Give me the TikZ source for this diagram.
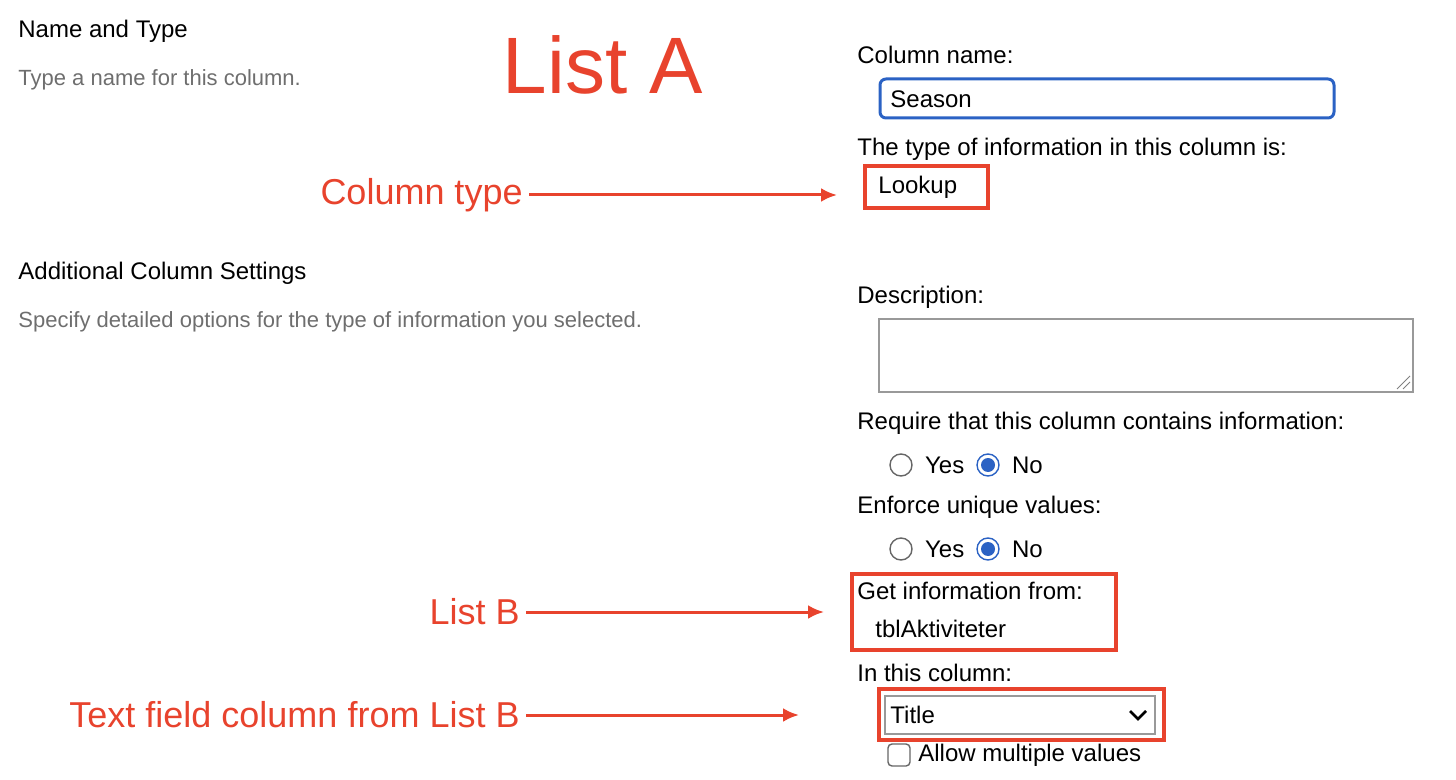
\documentclass[tikz,border=0pt]{standalone}
\usepackage{fontspec}
\setmainfont{Liberation Sans}
\usetikzlibrary{arrows.meta,positioning}
\definecolor{annored}{HTML}{E8432D}
\definecolor{uiblue}{HTML}{2B62C4}
\definecolor{uigray}{HTML}{6E6E6E}
\tikzset{
   ui text/.style={anchor=west,inner sep=0pt,font=\fontsize{12}{14}\selectfont},
   hint text/.style={ui text,text=uigray,font=\fontsize{11}{13}\selectfont},
   anno text/.style={anchor=east,inner sep=0pt,text=annored,font=\fontsize{18}{20}\selectfont},
   anno box/.style={draw=annored,line width=1.6pt},
   anno arrow/.style={-{Latex[length=8pt,width=7pt]},draw=annored,line width=1.5pt,shorten <=3pt,shorten >=14pt},
   field box/.style={draw=black!40,line width=0.7pt},
   radio/.style={circle,draw=black!60,line width=0.7pt,minimum size=11pt,inner sep=0pt}
}
\begin{document}
\begin{tikzpicture}[x=0.5pt,y=-0.5pt]
\useasboundingbox (0,0) rectangle (1456,780);

% left column
\node[ui text] (nt) at (18,31) {Name and Type};
\node[hint text] (nthint) at (18,80) {Type a name for this column.};
\node[ui text] (acs) at (18,273) {Additional Column Settings};
\node[hint text] (acshint) at (18,322) {Specify detailed options for the type of information you selected.};
\node[inner sep=0pt,text=annored,font=\fontsize{40}{44}\selectfont] (lista) at (603,65) {List A};

% form
\node[ui text] (cname) at (857,55) {Column name:};
\draw[uiblue,line width=1.5pt,rounded corners=3pt] (880,79) rectangle (1334,118);
\node[ui text] (season) at (890,99) {Season};
\node[ui text] (ctype) at (857,149) {The type of information in this column is:};
\node[ui text] (lookup) at (878,187) {Lookup};
\draw[anno box] (865,166) rectangle (988,208) coordinate (lookupbox);
\coordinate (lookupin) at (865,195);

\node[ui text] (desc) at (857,297) {Description:};
\draw[field box] (879,319) rectangle (1413,392);
\draw[black!50,line width=0.5pt] (1397,389) -- (1410,376) (1403,389) -- (1410,382);

\node[ui text] (req) at (857,423) {Require that this column contains information:};
\node[radio] (ryes1) at (901,465) {};
\node[ui text,right=6pt of ryes1] {Yes};
\node[radio,draw=uiblue,fill=white] (rno1) at (988,465) {};
\fill[uiblue] (rno1) circle (3.5pt);
\node[ui text,right=6pt of rno1] {No};

\node[ui text] (enf) at (857,507) {Enforce unique values:};
\node[radio] (ryes2) at (901,549) {};
\node[ui text,right=6pt of ryes2] {Yes};
\node[radio,draw=uiblue,fill=white] (rno2) at (988,549) {};
\fill[uiblue] (rno2) circle (3.5pt);
\node[ui text,right=6pt of rno2] {No};

\node[ui text] (getinfo) at (857,591) {Get information from:};
\node[ui text] (tbl) at (875,629) {tblAktiviteter};
\draw[anno box] (852,574) rectangle (1116,650);
\coordinate (getin) at (852,612);

\node[ui text] (inthis) at (857,673) {In this column:};
\draw[anno box] (879,689) rectangle (1164,740);
\draw[field box] (885,696) rectangle (1155,734);
\node[ui text] (title) at (890,715) {Title};
\draw[black,line width=1.3pt] (1130,711) -- (1138,719) -- (1146,711);
\coordinate (titlein) at (879,715);

\draw[black!60,line width=0.7pt,rounded corners=2pt] (888,744) rectangle (910,766);
\node[ui text] (multi) at (918,755) {Allow multiple values};

% annotations
\node[anno text] (coltype) at (523,195) {Column type};
\node[anno text] (listb) at (520,612) {List B};
\node[anno text] (textcol) at (520,715) {Text field column from List B};

\draw[anno arrow] (coltype.east) -- (lookupin);
\draw[anno arrow] (listb.east) -- (getin);
\draw[anno arrow,shorten >=40pt] (textcol.east) -- (titlein);
\end{tikzpicture}
\end{document}
